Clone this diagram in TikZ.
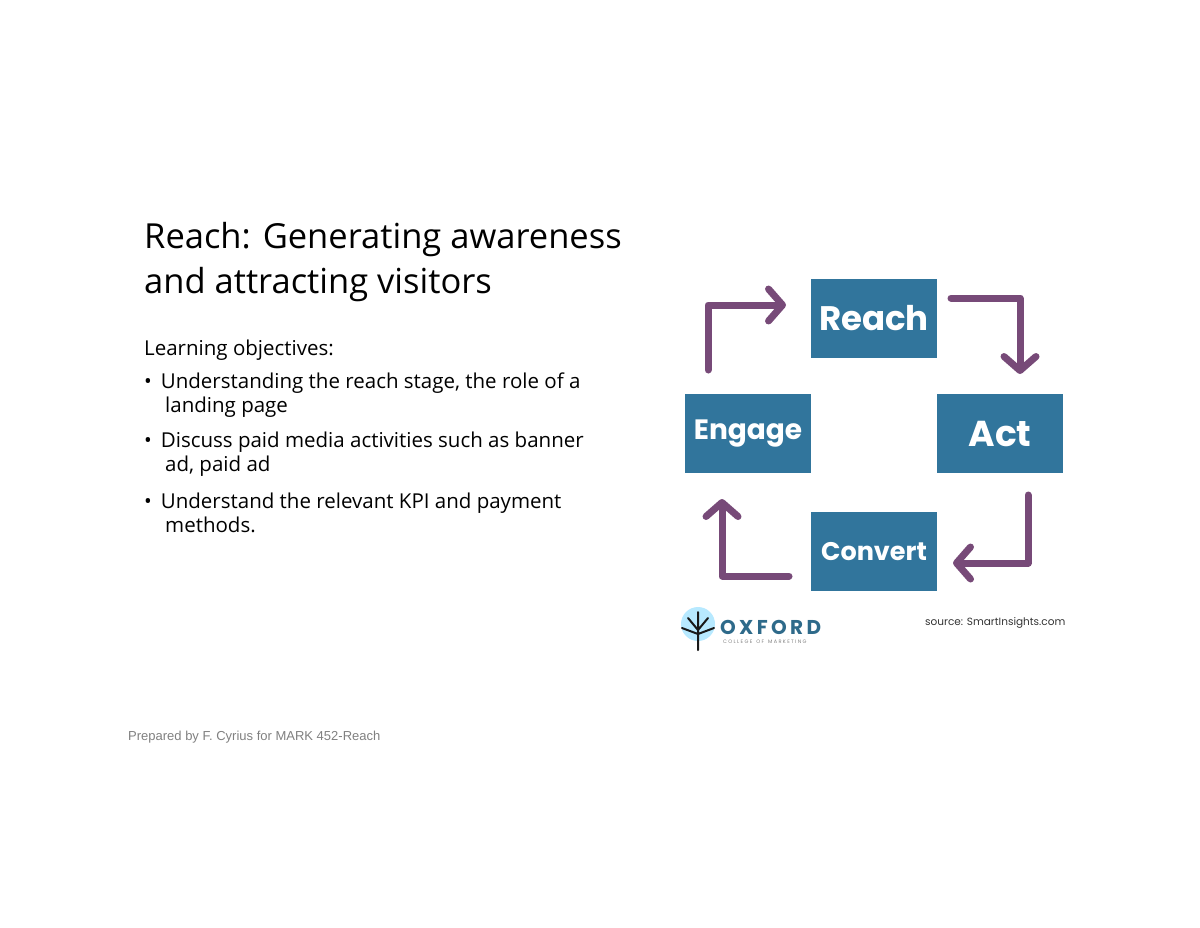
\documentclass[tikz,border=0pt]{standalone}
\usepackage{fontspec}
\setmainfont{Open Sans}
\newfontfamily\lib{Liberation Sans}
\newfontfamily\pop{Poppins}
\usetikzlibrary{arrows.meta}
\definecolor{boxc}{HTML}{31759C}
\definecolor{arr}{HTML}{774A78}
\definecolor{ox}{HTML}{2E6A8A}
\tikzset{
 stage/.style={fill=boxc,minimum width=126pt,minimum height=79pt,text=white,font=\pop\bfseries,inner sep=0pt},
 cyc/.style={draw=arr,line width=7pt,line cap=round,line join=round,-{Straight Barb[length=14pt,width=32pt,line width=7pt,round]}},
 txt/.style={anchor=north west,inner sep=0pt,align=left},
 body/.style={txt,font=\fontsize{20.5}{24}\selectfont}
}
\begin{document}
\begin{tikzpicture}[x=1pt,y=-1pt]
\useasboundingbox (0,0) rectangle (1200,927);
\node[txt,font=\fontsize{34.5}{45}\selectfont] (title) at (144,222) {Reach: Generating awareness\\and attracting visitors};
\node[body] (lo) at (144,340) {Learning objectives:};
\node[body] (b1) at (144,373)
 {\textbullet\hspace{9pt}Understanding the reach stage, the role of a\\\hspace*{21pt}landing page};
\node[body] (b2) at (144,432)
 {\textbullet\hspace{9pt}Discuss paid media activities such as banner\\\hspace*{21pt}ad, paid ad};
\node[body] (b3) at (144,493)
 {\textbullet\hspace{9pt}Understand the relevant KPI and payment\\\hspace*{21pt}methods.};
\node[txt,font=\lib\fontsize{13}{15}\selectfont,text=gray] (foot) at (128,731) {Prepared by F. Cyrius for MARK 452-Reach};

\node[stage,font=\pop\bfseries\fontsize{34}{36}\selectfont] (reach) at (874,318.5) {Reach};
\node[stage,font=\pop\bfseries\fontsize{28}{30}\selectfont] (engage) at (748,433.5) {Engage};
\node[stage,font=\pop\bfseries\fontsize{36}{38}\selectfont] (act) at (1000,433.5) {Act};
\node[stage,font=\pop\bfseries\fontsize{25.5}{28}\selectfont] (convert) at (874,551.5) {Convert};

\coordinate (a1s) at (708,370); \coordinate (a1c) at (708,305); \coordinate (a1e) at (786,305);
\draw[cyc] (a1s) -- (a1c) -- (a1e);
\coordinate (a2s) at (951,298); \coordinate (a2c) at (1020,298); \coordinate (a2e) at (1020,374);
\draw[cyc] (a2s) -- (a2c) -- (a2e);
\coordinate (a3s) at (1028,495); \coordinate (a3c) at (1028,563); \coordinate (a3e) at (953,563);
\draw[cyc] (a3s) -- (a3c) -- (a3e);
\coordinate (a4s) at (789,576); \coordinate (a4c) at (722,576); \coordinate (a4e) at (722,499);
\draw[cyc] (a4s) -- (a4c) -- (a4e);

% logo
\begin{scope}[shift={(698,630)}]
 \fill[blue!30!cyan!40,opacity=.7] (0,-6) circle (17pt);
 \draw[gray!20!black,line width=2pt,line cap=round] (0,20) -- (0,-2) (0,0) -- (-10,-12) (0,0) -- (10,-12) (0,4) -- (-16,-2) (0,4) -- (16,-2) (0,-2) -- (0,-18);
\end{scope}
\node[inner sep=0pt,text=ox,font=\pop\bfseries\fontsize{20}{22}\selectfont,anchor=west] (oxf) at (720,627) {O\,X\,F\,O\,R\,D};
\node[inner sep=0pt,text=gray,font=\pop\fontsize{5}{6}\selectfont,anchor=west] (col) at (723,642) {C O L L E G E \; O F \; M A R K E T I N G};
\node[inner sep=0pt,font=\pop\fontsize{10.5}{12}\selectfont,text=black!80,anchor=west] (src) at (925,623) {source: SmartInsights.com};
\end{tikzpicture}
\end{document}
